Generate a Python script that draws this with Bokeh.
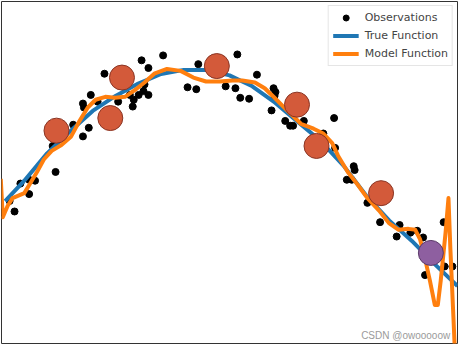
from bokeh.plotting import figure
from bokeh.models import Legend, LegendItem, Label
from bokeh.embed import file_html
from bokeh.resources import INLINE

# Observations (black dots)
obs_x = [0.003, 0.089, 0.143, 0.207, 0.303, 0.368, 0.303, 0.593, 0.561, 0.786,
         0.893, 0.957, 0.893, 0.904, 0.979, 1.054, 1.129, 1.279, 1.407, 1.450,
         1.439, 1.504, 1.557, 1.568, 1.611, 1.536, 1.611, 1.772, 2.040, 2.136,
         2.158, 2.458, 2.565, 2.586, 2.618, 2.715, 2.801, 2.983, 3.004, 2.994,
         2.961, 3.111, 3.165, 3.197, 3.315, 3.647, 3.529, 3.658, 3.862, 3.872,
         3.786, 3.840, 4.012, 4.151, 4.365, 4.333, 4.483, 4.558, 4.623, 4.848,
         4.858, 4.944, 4.644]
obs_y = [-0.042, 0.042, -0.035, 0.169, 0.197, 0.190, 0.092, 0.254, 0.444, 0.599,
         0.514, 0.577, 0.754, 0.725, 0.817, 0.768, 0.972, 0.768, 0.817, 0.782,
         0.732, 0.817, 0.845, 0.894, 0.817, 1.070, 1.014, 1.106, 0.873, 0.859,
         1.042, 0.880, 0.866, 1.113, 0.796, 0.789, 0.965, 0.866, 0.838, 0.810,
         0.704, 0.627, 0.592, 0.592, 0.627, 0.648, 0.535, 0.430, 0.296, 0.268,
         0.197, 0.197, 0.028, -0.113, -0.134, -0.218, -0.190, -0.176, -0.225, -0.113,
         -0.437, -0.437, -0.500]

# True function (blue)
true_x = [0.04, 0.25, 0.5, 0.75, 1.0, 1.25, 1.5, 1.75, 2.0, 2.25, 2.5,
          2.75, 3.0, 3.25, 3.5, 3.75, 4.0, 4.25, 4.5, 4.75, 5.0]
true_y = [0.04, 0.19, 0.39, 0.55, 0.70, 0.81, 0.90, 0.97, 1.00, 1.00, 0.96,
          0.88, 0.76, 0.62, 0.48, 0.30, 0.08, -0.10, -0.25, -0.42, -0.58]

# Model function (orange)
model_x = [-0.008, 0.014, 0.068, 0.121, 0.250, 0.314, 0.389, 0.464, 0.550, 0.657,
           0.764, 0.850, 0.946, 1.032, 1.139, 1.247, 1.354, 1.461, 1.568, 1.675,
           1.815, 1.964, 2.104, 2.243, 2.393, 2.533, 2.640, 2.779, 2.886, 2.994,
           3.090, 3.176, 3.283, 3.422, 3.529, 3.626, 3.690, 3.797, 3.904, 4.012,
           4.140, 4.248, 4.355, 4.462, 4.537, 4.590, 4.644, 4.698, 4.751, 4.784,
           4.816, 4.869, 4.901, 4.922, 4.955, 4.987]
model_y = [0.204, -0.077, 0.007, 0.063, 0.099, 0.169, 0.254, 0.345, 0.408, 0.451,
           0.514, 0.620, 0.725, 0.782, 0.803, 0.796, 0.803, 0.852, 0.908, 0.972,
           1.007, 0.993, 0.944, 0.915, 0.915, 0.923, 0.923, 0.908, 0.866, 0.796,
           0.732, 0.676, 0.606, 0.570, 0.535, 0.465, 0.373, 0.254, 0.162, 0.063,
           -0.028, -0.120, -0.169, -0.162, -0.169, -0.239, -0.380, -0.542, -0.718, -0.718,
           -0.542, -0.190, 0.063, -0.310, -0.803, -1.296]

# Highlighted samples (large circles)
pick_x = [0.603, 1.193, 1.321, 2.361, 3.240, 3.454, 4.162]
pick_y = [0.556, 0.648, 0.944, 1.028, 0.746, 0.444, 0.099]
next_x = [4.708]
next_y = [-0.338]

p = figure(width=458, height=344, x_range=(0, 5), y_range=(-1.0, 1.5),
           output_backend="svg", toolbar_location=None,
           min_border_left=1, min_border_right=1, min_border_top=1, min_border_bottom=1)
p.xgrid.visible = False
p.ygrid.visible = False
p.xaxis.visible = False
p.yaxis.visible = False
p.outline_line_color = "#333333"
p.outline_line_width = 1
p.background_fill_color = "white"

r_obs = p.scatter(obs_x, obs_y, size=7, color="black")
r_true = p.line(true_x, true_y, line_color="#1f77b4", line_width=4, line_join="round")
r_model = p.line(model_x, model_y, line_color="#ff7f0e", line_width=4, line_join="round")
p.scatter(pick_x, pick_y, size=25, fill_color="#d35a3a", line_color="#8a3524", line_width=1)
p.scatter(next_x, next_y, size=25, fill_color="#8e5fa0", line_color="#5c3a6a", line_width=1)

legend = Legend(items=[LegendItem(label="Observations", renderers=[r_obs]),
                       LegendItem(label="True Function", renderers=[r_true]),
                       LegendItem(label="Model Function", renderers=[r_model])],
                location="top_right", border_line_color="#cccccc", border_line_width=1,
                background_fill_color="white", background_fill_alpha=0.85,
                label_text_font="DejaVu Sans", label_text_font_size="11px",
                glyph_width=26, glyph_height=15, label_height=15, spacing=3,
                padding=4, margin=4, label_standoff=6)
p.add_layout(legend)

p.add_layout(Label(x=4.92, y=-0.944, text="CSDN @owooooow", text_font="Liberation Sans",
                   text_font_size="10px", text_color="#9a9a9a", text_baseline="alphabetic",
                   text_align="right"))

open("out.html", "w").write(file_html(p, INLINE))
